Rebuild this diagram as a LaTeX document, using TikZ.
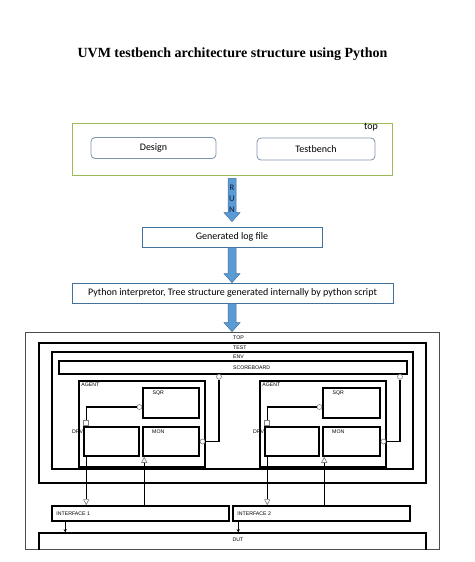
\documentclass[tikz,border=0pt]{standalone}
\usepackage{fontspec}
\setmainfont{Carlito}
\setsansfont{Liberation Sans}
\newfontfamily\titlefont{Liberation Serif}
\usetikzlibrary{calc,arrows.meta}

\definecolor{boxgreen}{HTML}{9BBB59}
\definecolor{boxgrey}{HTML}{7F93AD}
\definecolor{logblue}{HTML}{41719C}
\definecolor{arrowblue}{HTML}{5B9BD5}
\definecolor{runblue}{HTML}{1F3864}

% fat blue arrow from #1 down to #2
\newcommand{\blockarrow}[2]{%
  \filldraw[draw=logblue, fill=arrowblue, line width=0.5pt]
    ($(#1)+(-4,0)$) -- ($(#2)+(-4,-9)$) -- ($(#2)+(-8,-9)$) -- (#2)
    -- ($(#2)+(8,-9)$) -- ($(#2)+(4,-9)$) -- ($(#1)+(4,0)$) -- cycle;}

\tikzset{
  flowbox/.style={draw=logblue, line width=0.8pt, inner sep=0pt, font=\fontsize{10}{12}\selectfont},
  roundbox/.style={draw=boxgrey, line width=0.8pt, rounded corners=4pt, inner sep=0pt, font=\fontsize{10}{12}\selectfont},
  blk/.style={draw=black, line width=1.5pt, inner sep=0pt},
  tiny/.style={font=\sffamily\fontsize{5.2}{6}\selectfont, inner sep=0pt},
  cport/.style={circle, draw=gray, fill=white, line width=0.6pt, minimum size=5pt, inner sep=0pt},
  sport/.style={rectangle, draw=gray, fill=white, line width=0.6pt, minimum size=5pt, inner sep=0pt},
  wire/.style={line width=1.3pt},
  iowire/.style={wire, -{Triangle[open, length=6pt, width=6pt, line width=0.6pt, color=gray]}},
  duwire/.style={line width=0.8pt, -{Stealth[length=3pt, width=3pt]}}
}

\begin{document}
\begin{tikzpicture}[x=1pt, y=-1pt]
  \useasboundingbox (0,0) rectangle (474,562);

  % Title
  \node[font=\titlefont\bfseries\fontsize{14}{16}\selectfont] (title) at (232.5,54) {UVM testbench architecture structure using Python};

  % Upper flow
  \node[draw=boxgreen, line width=0.9pt, minimum width=320pt, minimum height=52pt] (greenbox) at (232,149) {};
  \node[font=\fontsize{10}{12}\selectfont, inner sep=0pt] (toplbl) at (371,127.5) {top};
  \node[roundbox, minimum width=125pt, minimum height=21pt] (design) at (153.5,148) {Design};
  \node[roundbox, minimum width=118pt, minimum height=22pt] (testbench) at (316,149) {Testbench};
  \node[flowbox, minimum width=180pt, minimum height=20pt] (logbox) at (232,237) {Generated log file};
  \node[flowbox, minimum width=321pt, minimum height=20pt] (pybox) at (232.5,293) {Python interpretor, Tree structure generated internally by python script};

  \node[draw=gray!60!black, line width=0.7pt, minimum width=414pt, minimum height=217pt] (topbox) at (232,440.5) {};

  \blockarrow{[yshift=-3pt]greenbox.south}{[yshift=5pt]logbox.north}
  \blockarrow{logbox.south}{logbox.south |- pybox.north}
  \blockarrow{logbox.south |- pybox.south}{topbox.north}
  \node[font=\bfseries\fontsize{8.5}{11}\selectfont, text=runblue, align=center, inner sep=0pt] (run) at (232,199) {R\\U\\N};

  % Lower tree
  \node[blk, minimum width=387pt, minimum height=140pt] (test) at (232.5,413) {};
  \node[blk, minimum width=361pt, minimum height=117pt] (env) at (232.5,410.5) {};
  \node[blk, minimum width=348pt, minimum height=13pt] (score) at (233,367.5) {};
  \node[tiny, anchor=west] (toptxt) at (233,337.5) {TOP};
  \node[tiny, anchor=west] (testtxt) at (233,347.5) {TEST};
  \node[tiny, anchor=west] (envtxt) at (233,356.5) {ENV};
  \node[tiny, anchor=west] (scoretxt) at (233,367.5) {SCOREBOARD};

  % Agent 1
  \node[blk, minimum width=126pt, minimum height=86pt] (agentA) at (142,424) {};
  \node[blk, minimum width=56pt, minimum height=30pt] (sqrA) at (171,403) {};
  \node[blk, minimum width=55pt, minimum height=29pt] (drvA) at (111.5,441.5) {};
  \node[blk, minimum width=56pt, minimum height=29pt] (monA) at (171,441.5) {};
  \node[tiny, anchor=west] (agentAtxt) at ([shift={(3,4.5)}]agentA.north west) {AGENT};
  \node[tiny] (sqrAtxt) at ([shift={(16,6)}]sqrA.north west) {SQR};
  \node[tiny] (monAtxt) at ([shift={(16,5)}]monA.north west) {MON};
  \node[tiny, anchor=east] (drvAtxt) at ([shift={(0,-9.5)}]drvA.west) {DRV};

  % Agent 2
  \node[blk, minimum width=126pt, minimum height=86pt] (agentB) at (323,424) {};
  \node[blk, minimum width=57pt, minimum height=30pt] (sqrB) at (351.5,403) {};
  \node[blk, minimum width=54pt, minimum height=29pt] (drvB) at (292,441.5) {};
  \node[blk, minimum width=57pt, minimum height=29pt] (monB) at (351.5,441.5) {};
  \node[tiny, anchor=west] (agentBtxt) at ([shift={(3,4.5)}]agentB.north west) {AGENT};
  \node[tiny] (sqrBtxt) at ([shift={(16,6)}]sqrB.north west) {SQR};
  \node[tiny] (monBtxt) at ([shift={(16,5)}]monB.north west) {MON};
  \node[tiny, anchor=east] (drvBtxt) at ([shift={(0,-9.5)}]drvB.west) {DRV};

  % Interfaces and DUT
  \node[blk, minimum width=177pt, minimum height=15pt] (ifA) at (140.5,513.5) {};
  \node[blk, minimum width=177pt, minimum height=15pt] (ifB) at (321.5,513.5) {};
  \node[tiny, anchor=west] (ifAtxt) at ([shift={(5,0)}]ifA.west) {INTERFACE 1};
  \node[tiny, anchor=west] (ifBtxt) at ([shift={(5,0)}]ifB.west) {INTERFACE 2};
  \begin{scope}
    \clip (0,0) rectangle (474,549);
    \node[blk, minimum width=387pt, minimum height=34pt] (dut) at (232.5,550) {};
    \node[tiny] (duttxt) at (238,540) {DUT};
  \end{scope}

  % Ports
  \node[sport] (sqA) at ([shift={(3,-3.5)}]drvA.north west) {};
  \node[cport, anchor=east] (cA) at ([shift={(0,4)}]sqrA.west) {};
  \node[cport, anchor=west] (cmA) at (monA.east) {};
  \node[cport, anchor=north] (csA) at (219,374) {};
  \node[sport] (sqB) at ([shift={(3,-3.5)}]drvB.north west) {};
  \node[cport, anchor=east] (cB) at ([shift={(0,4)}]sqrB.west) {};
  \node[cport, anchor=west] (cmB) at (monB.east) {};
  \node[cport, anchor=north] (csB) at (400,374) {};

  % Wires
  \draw[wire] (sqA.north) |- (cA.west);
  \draw[wire] (cmA.east) -| (csA.south);
  \draw[wire] (sqB.north) |- (cB.west);
  \draw[wire] (cmB.east) -| (csB.south);

  \coordinate (mA) at ([xshift=2pt]monA.south west);
  \coordinate (mB) at ([xshift=2pt]monB.south west);
  \draw[iowire] (drvA.south -| sqA) -- (ifA.north -| sqA);
  \draw[iowire] (mA |- ifA.north) -- (mA);
  \draw[iowire] (drvB.south -| sqB) -- (ifB.north -| sqB);
  \draw[iowire] (mB |- ifB.north) -- (mB);

  \coordinate (kA) at ([xshift=14pt]ifA.south west);
  \coordinate (kB) at ([xshift=6pt]ifB.south west);
  \draw[duwire] (kA) -- (kA |- dut.north);
  \draw[duwire] (kB) -- (kB |- dut.north);

  % redraw ports on top of the wires
  \node[sport] at (sqA) {};
  \node[sport] at (sqB) {};
\end{tikzpicture}
\end{document}
